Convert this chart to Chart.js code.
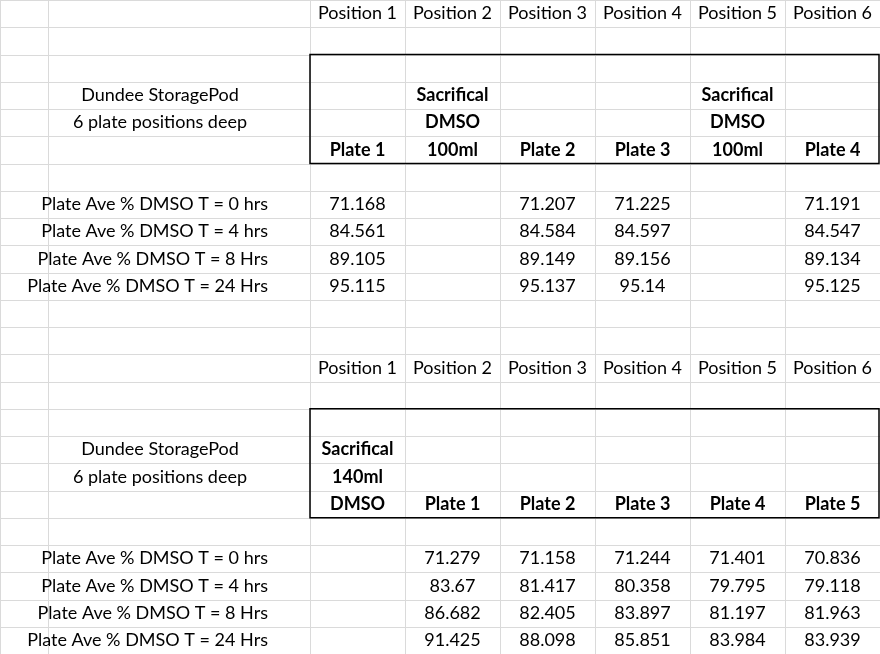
<!DOCTYPE html>
<html><head><meta charset="utf-8">
<script src="https://cdn.jsdelivr.net/npm/chart.js@4"></script>
<style>html,body{margin:0;padding:0;background:#fff}#w{width:880px;height:654px}</style>
</head><body><div id="w"><canvas id="c"></canvas></div>
<script>
const positions = ["Position 1","Position 2","Position 3","Position 4","Position 5","Position 6"];
const rowLabels = ["Plate Ave % DMSO T = 0 hrs","Plate Ave % DMSO T = 4 hrs","Plate Ave % DMSO T = 8 Hrs","Plate Ave % DMSO T = 24 Hrs"];
const podTitle = ["Dundee StoragePod","6 plate positions deep"];
const headers1 = [["","","Plate 1"],["Sacrifical","DMSO","100ml"],["","","Plate 2"],["","","Plate 3"],["Sacrifical","DMSO","100ml"],["","","Plate 4"]];
const headers2 = [["Sacrifical","140ml","DMSO"],["","","Plate 1"],["","","Plate 2"],["","","Plate 3"],["","","Plate 4"],["","","Plate 5"]];
const table1 = [
 ["71.168","","71.207","71.225","","71.191"],
 ["84.561","","84.584","84.597","","84.547"],
 ["89.105","","89.149","89.156","","89.134"],
 ["95.115","","95.137","95.14","","95.125"]];
const table2 = [
 ["","71.279","71.158","71.244","71.401","70.836"],
 ["","83.67","81.417","80.358","79.795","79.118"],
 ["","86.682","82.405","83.897","81.197","81.963"],
 ["","91.425","88.098","85.851","83.984","83.939"]];

const colEdges=[0,48,310,405,500,595,690,785,880];
const NROWS=24;
const font='18px Lato, "Open Sans", sans-serif', bfont='bold 18px Lato, "Open Sans", sans-serif';

const plugin={id:'sheet',afterDraw(chart){
 const ctx=chart.ctx,X=chart.scales.x,Y=chart.scales.y;
 const cx=i=>X.getPixelForValue((colEdges[i+2]+colEdges[i+3])/2);
 const ry=r=>Y.getPixelForValue(r+0.5);
 ctx.save();
 ctx.strokeStyle='#dadada';ctx.lineWidth=1;
 for(let r=0;r<=NROWS;r++){const y=Math.round(Y.getPixelForValue(r))+0.5;ctx.beginPath();ctx.moveTo(0,y);ctx.lineTo(880,y);ctx.stroke();}
 colEdges.forEach(e=>{const x=Math.round(X.getPixelForValue(e))+0.5;ctx.beginPath();ctx.moveTo(x,0);ctx.lineTo(x,654);ctx.stroke();});
 ctx.fillStyle='#000';ctx.textBaseline='middle';
 const block=(r0,hdr,data)=>{
  ctx.font=font;ctx.textAlign='center';
  positions.forEach((p,i)=>ctx.fillText(p,cx(i),ry(r0)));
  podTitle.forEach((t,k)=>ctx.fillText(t,X.getPixelForValue(160),ry(r0+3+k)));
  // box
  ctx.strokeStyle='#000';ctx.lineWidth=1.5;
  const x0=X.getPixelForValue(310),x1=X.getPixelForValue(879),y0=Y.getPixelForValue(r0+2),y1=Y.getPixelForValue(r0+6);
  ctx.strokeRect(x0,y0,x1-x0,y1-y0);
  ctx.font=bfont;
  hdr.forEach((lines,i)=>lines.forEach((t,k)=>{if(t)ctx.fillText(t,cx(i),ry(r0+3+k));}));
  ctx.font=font;
  data.forEach((row,j)=>{
   ctx.textAlign='right';ctx.fillText(rowLabels[j],X.getPixelForValue(268),ry(r0+7+j));
   ctx.textAlign='center';row.forEach((v,i)=>{if(v)ctx.fillText(v,cx(i),ry(r0+7+j));});
  });
 };
 block(0,headers1,table1);
 block(13,headers2,table2);
 ctx.restore();
}};

const pts=[];
[[0,table1],[13,table2]].forEach(([r0,t])=>t.forEach((row,j)=>row.forEach((v,i)=>{if(v)pts.push({x:(colEdges[i+2]+colEdges[i+3])/2,y:r0+7+j+0.5});})));

new Chart(document.getElementById('c'),{
 type:'scatter',
 data:{datasets:[{data:pts,pointRadius:0,pointHoverRadius:0}]},
 options:{responsive:true,maintainAspectRatio:false,animation:false,
  layout:{padding:0},
  plugins:{legend:{display:false},tooltip:{enabled:false}},
  scales:{x:{type:'linear',min:0,max:880,display:false},y:{type:'linear',min:0,max:NROWS,reverse:true,display:false}}},
 plugins:[plugin]});
</script></body></html>
